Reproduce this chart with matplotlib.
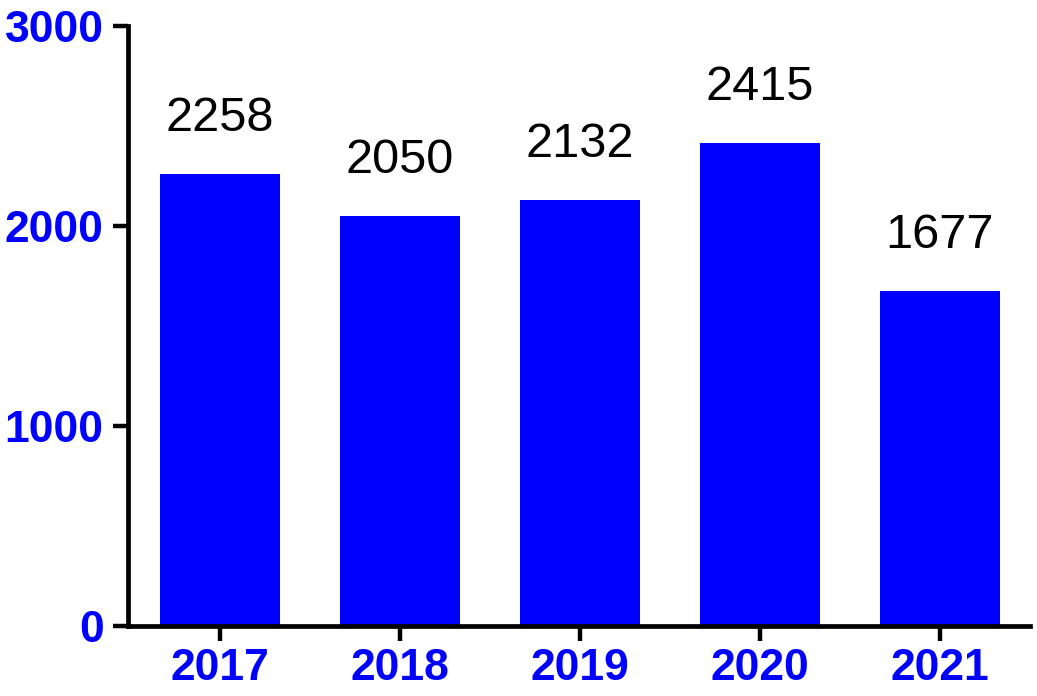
import matplotlib.pyplot as plt
import numpy as np

plt.rcParams['font.family'] = ['Liberation Sans', 'DejaVu Sans']

years = ["2017", "2018", "2019", "2020", "2021"]
counts = [2258, 2050, 2132, 2415, 1677]

fig = plt.figure(figsize=(10.37, 6.96), dpi=100)
ax = fig.add_axes([0.1234, 0.1006, 0.8696, 0.862])

x = np.arange(len(years))
ax.bar(x, counts, width=0.667, color="#0000ff")

# value labels above bars
for xi, c in zip(x, counts):
    ax.annotate(str(c), (xi, c), xytext=(0, 31), textcoords="offset points",
                ha="center", va="baseline", fontsize=35, color="black")

ax.set_xlim(-0.511, 4.5)
ax.set_ylim(0, 3000)
ax.set_yticks([0, 1000, 2000, 3000])
ax.set_xticks(x)
ax.set_xticklabels(years)

for s in ["top", "right"]:
    ax.spines[s].set_visible(False)
for s in ["left", "bottom"]:
    ax.spines[s].set_linewidth(3.4)

ax.tick_params(axis="both", width=3.2, length=10.5, labelsize=32,
               labelcolor="#0000ff")
ax.tick_params(axis="y", pad=7)
ax.tick_params(axis="x", pad=5)
for lab in ax.get_xticklabels() + ax.get_yticklabels():
    lab.set_fontweight("bold")

plt.savefig("out.png", dpi=100)
